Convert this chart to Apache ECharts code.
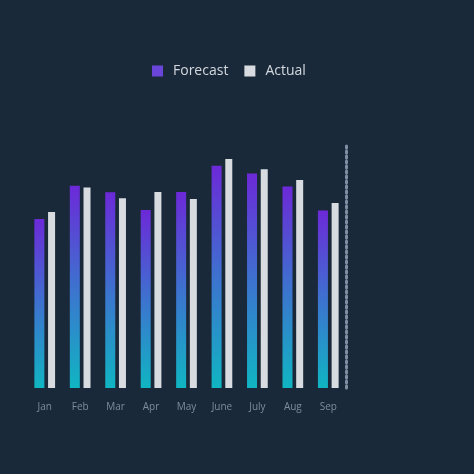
<!DOCTYPE html>
<html>
<head>
<meta charset="utf-8">
<script src="https://cdn.jsdelivr.net/npm/echarts@6/dist/echarts.min.js"></script>
<style>
  html, body { margin: 0; padding: 0; background: #1a293a; }
  #main { width: 474px; height: 474px; }
</style>
</head>
<body>
<div id="main"></div>
<script>
var months = ['Jan', 'Feb', 'Mar', 'Apr', 'May', 'June', 'July', 'Aug', 'Sep'];
var forecast = [69, 82.6, 79.9, 72.7, 80, 90.7, 87.6, 82.2, 72.5];
var actual = [71.8, 81.8, 77.4, 80, 77.1, 93.5, 89.3, 84.9, 75.5];

var purpleCyan = new echarts.graphic.LinearGradient(0, 0, 0, 1, [
    { offset: 0, color: '#6c29d8' },
    { offset: 0.5, color: '#3d72cf' },
    { offset: 1, color: '#10b5c2' }
]);

var option = {
    backgroundColor: '#1a293a',
    textStyle: { fontFamily: 'Open Sans' },
    legend: {
        top: 59,
        left: 147,
        itemWidth: 11,
        itemHeight: 11,
        itemGap: 16,
        icon: 'rect',
        textStyle: { color: '#d3d8de', fontSize: 14, padding: [0, 0, 0, 5] },
        data: [
            { name: 'Forecast', itemStyle: { color: '#6a45d9' } },
            { name: 'Actual', itemStyle: { color: '#d8dce0' } }
        ]
    },
    grid: { left: 27, right: 128, top: 143, bottom: 86 },
    xAxis: {
        type: 'category',
        data: months,
        axisLine: { show: false },
        axisTick: { show: false },
        axisLabel: { color: '#7d8c9e', fontSize: 10, margin: 14 }
    },
    yAxis: {
        type: 'value',
        position: 'right',
        min: 0,
        max: 100,
        axisLine: {
            show: true,
            lineStyle: { color: '#7f90a4', width: 3, type: [2, 3] }
        },
        axisTick: { show: false },
        axisLabel: { show: false },
        splitLine: { show: false }
    },
    series: [{
        name: 'Forecast',
        type: 'bar',
        data: forecast,
        barWidth: 10,
        barGap: '37%',
        itemStyle: { color: purpleCyan }
    }, {
        name: 'Actual',
        type: 'bar',
        data: actual,
        barWidth: 7,
        itemStyle: { color: '#d8dce0' }
    }]
};

var myChart = echarts.init(document.getElementById('main'));
myChart.setOption(option);
</script>
</body>
</html>
